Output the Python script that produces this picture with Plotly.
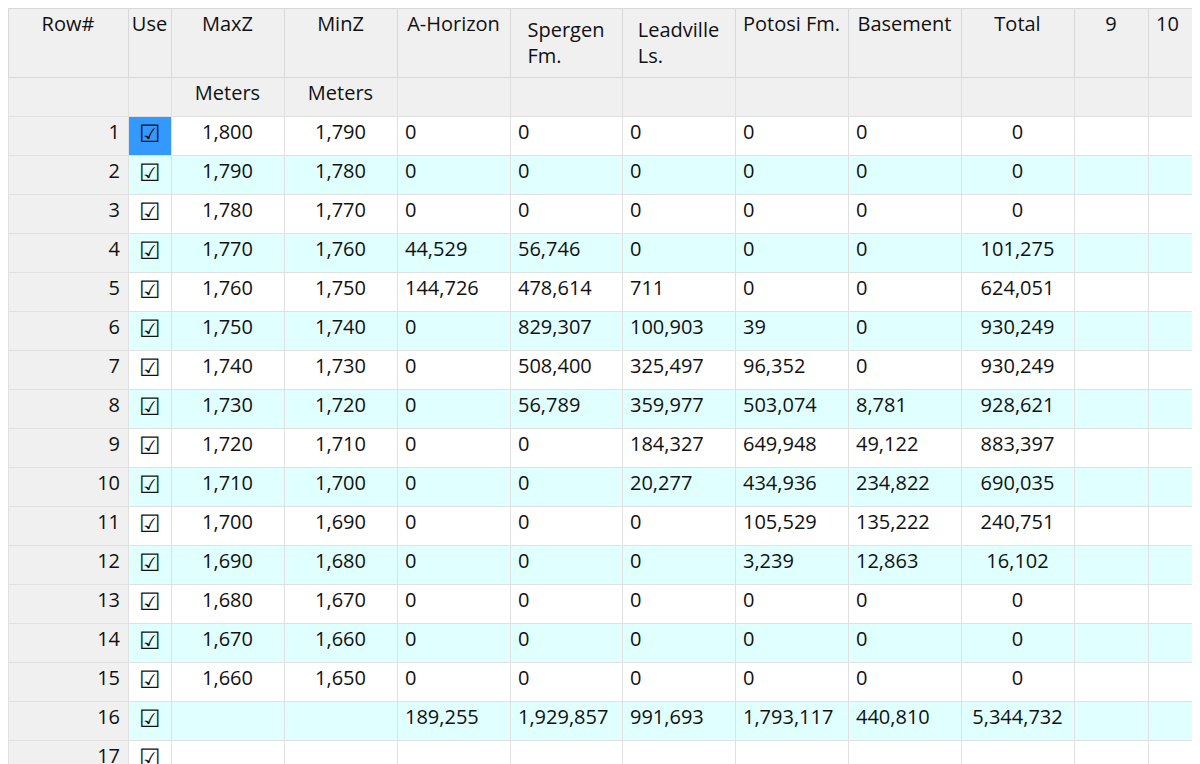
import plotly.graph_objects as go

headers = ["Row#", "Use", "MaxZ", "MinZ", "A-Horizon", "Spergen<br>Fm.", "Leadville<br>Ls.",
           "Potosi\u00a0Fm.", "Basement", "Total", "9", "10"]
units = ["", "", "Meters", "Meters", "", "", "", "", "", "", "", ""]
row_ids = list(range(1, 18))
maxz = [1800, 1790, 1780, 1770, 1760, 1750, 1740, 1730, 1720, 1710, 1700, 1690, 1680, 1670, 1660]
minz = [1790, 1780, 1770, 1760, 1750, 1740, 1730, 1720, 1710, 1700, 1690, 1680, 1670, 1660, 1650]
a_horizon = [0, 0, 0, 44529, 144726, 0, 0, 0, 0, 0, 0, 0, 0, 0, 0, 189255]
spergen = [0, 0, 0, 56746, 478614, 829307, 508400, 56789, 0, 0, 0, 0, 0, 0, 0, 1929857]
leadville = [0, 0, 0, 0, 711, 100903, 325497, 359977, 184327, 20277, 0, 0, 0, 0, 0, 991693]
potosi = [0, 0, 0, 0, 0, 39, 96352, 503074, 649948, 434936, 105529, 3239, 0, 0, 0, 1793117]
basement = [0, 0, 0, 0, 0, 0, 0, 8781, 49122, 234822, 135222, 12863, 0, 0, 0, 440810]
total = [0, 0, 0, 101275, 624051, 930249, 930249, 928621, 883397, 690035, 240751, 16102, 0, 0, 0, 5344732]

n = len(row_ids)
def fmt(lst):
    return [f"{v:,}" for v in lst] + [""] * (n - len(lst))

cols = [
    [str(r) for r in row_ids],
    ["☑"] * n,
    fmt(maxz), fmt(minz), fmt(a_horizon), fmt(spergen), fmt(leadville),
    fmt(potosi), fmt(basement), fmt(total), [""] * n, [""] * n,
]
values = [[units[i]] + cols[i] for i in range(len(cols))]

GREY = "#f0f0f0"
CYAN = "#e0ffff"
row_fill = [GREY] + [("white" if i % 2 == 0 else CYAN) for i in range(n)]
fills = []
for ci in range(len(cols)):
    if ci == 0:
        fills.append([GREY] * (n + 1))
    else:
        f = list(row_fill)
        if ci == 1:
            f[1] = "#3399ff"
        fills.append(f)

aligns = ["right", "center", "center", "center", "left", "left", "left", "left", "left", "center", "center", "left"]
widths = [120, 43, 113, 113, 113, 112, 113, 113, 113, 113, 74, 60]
fontsizes = [20, 24] + [20] * 10

fig = go.Figure(go.Table(
    columnwidth=widths,
    header=dict(values=headers, fill_color=GREY, line_color="#d8d8d8",
                align=["center"] * 11 + ["left"], height=50,
                font=dict(family="Open Sans", size=20, color="#111111")),
    cells=dict(values=values, fill_color=fills, line_color="#e0e0e0",
               align=aligns, height=39,
               font=dict(family="Open Sans", size=fontsizes, color="#111111")),
))
fig.update_layout(width=1200, height=764, margin=dict(l=0, r=0, t=0, b=0),
                  paper_bgcolor="#f3f3f3")
fig.write_html("out.html")
